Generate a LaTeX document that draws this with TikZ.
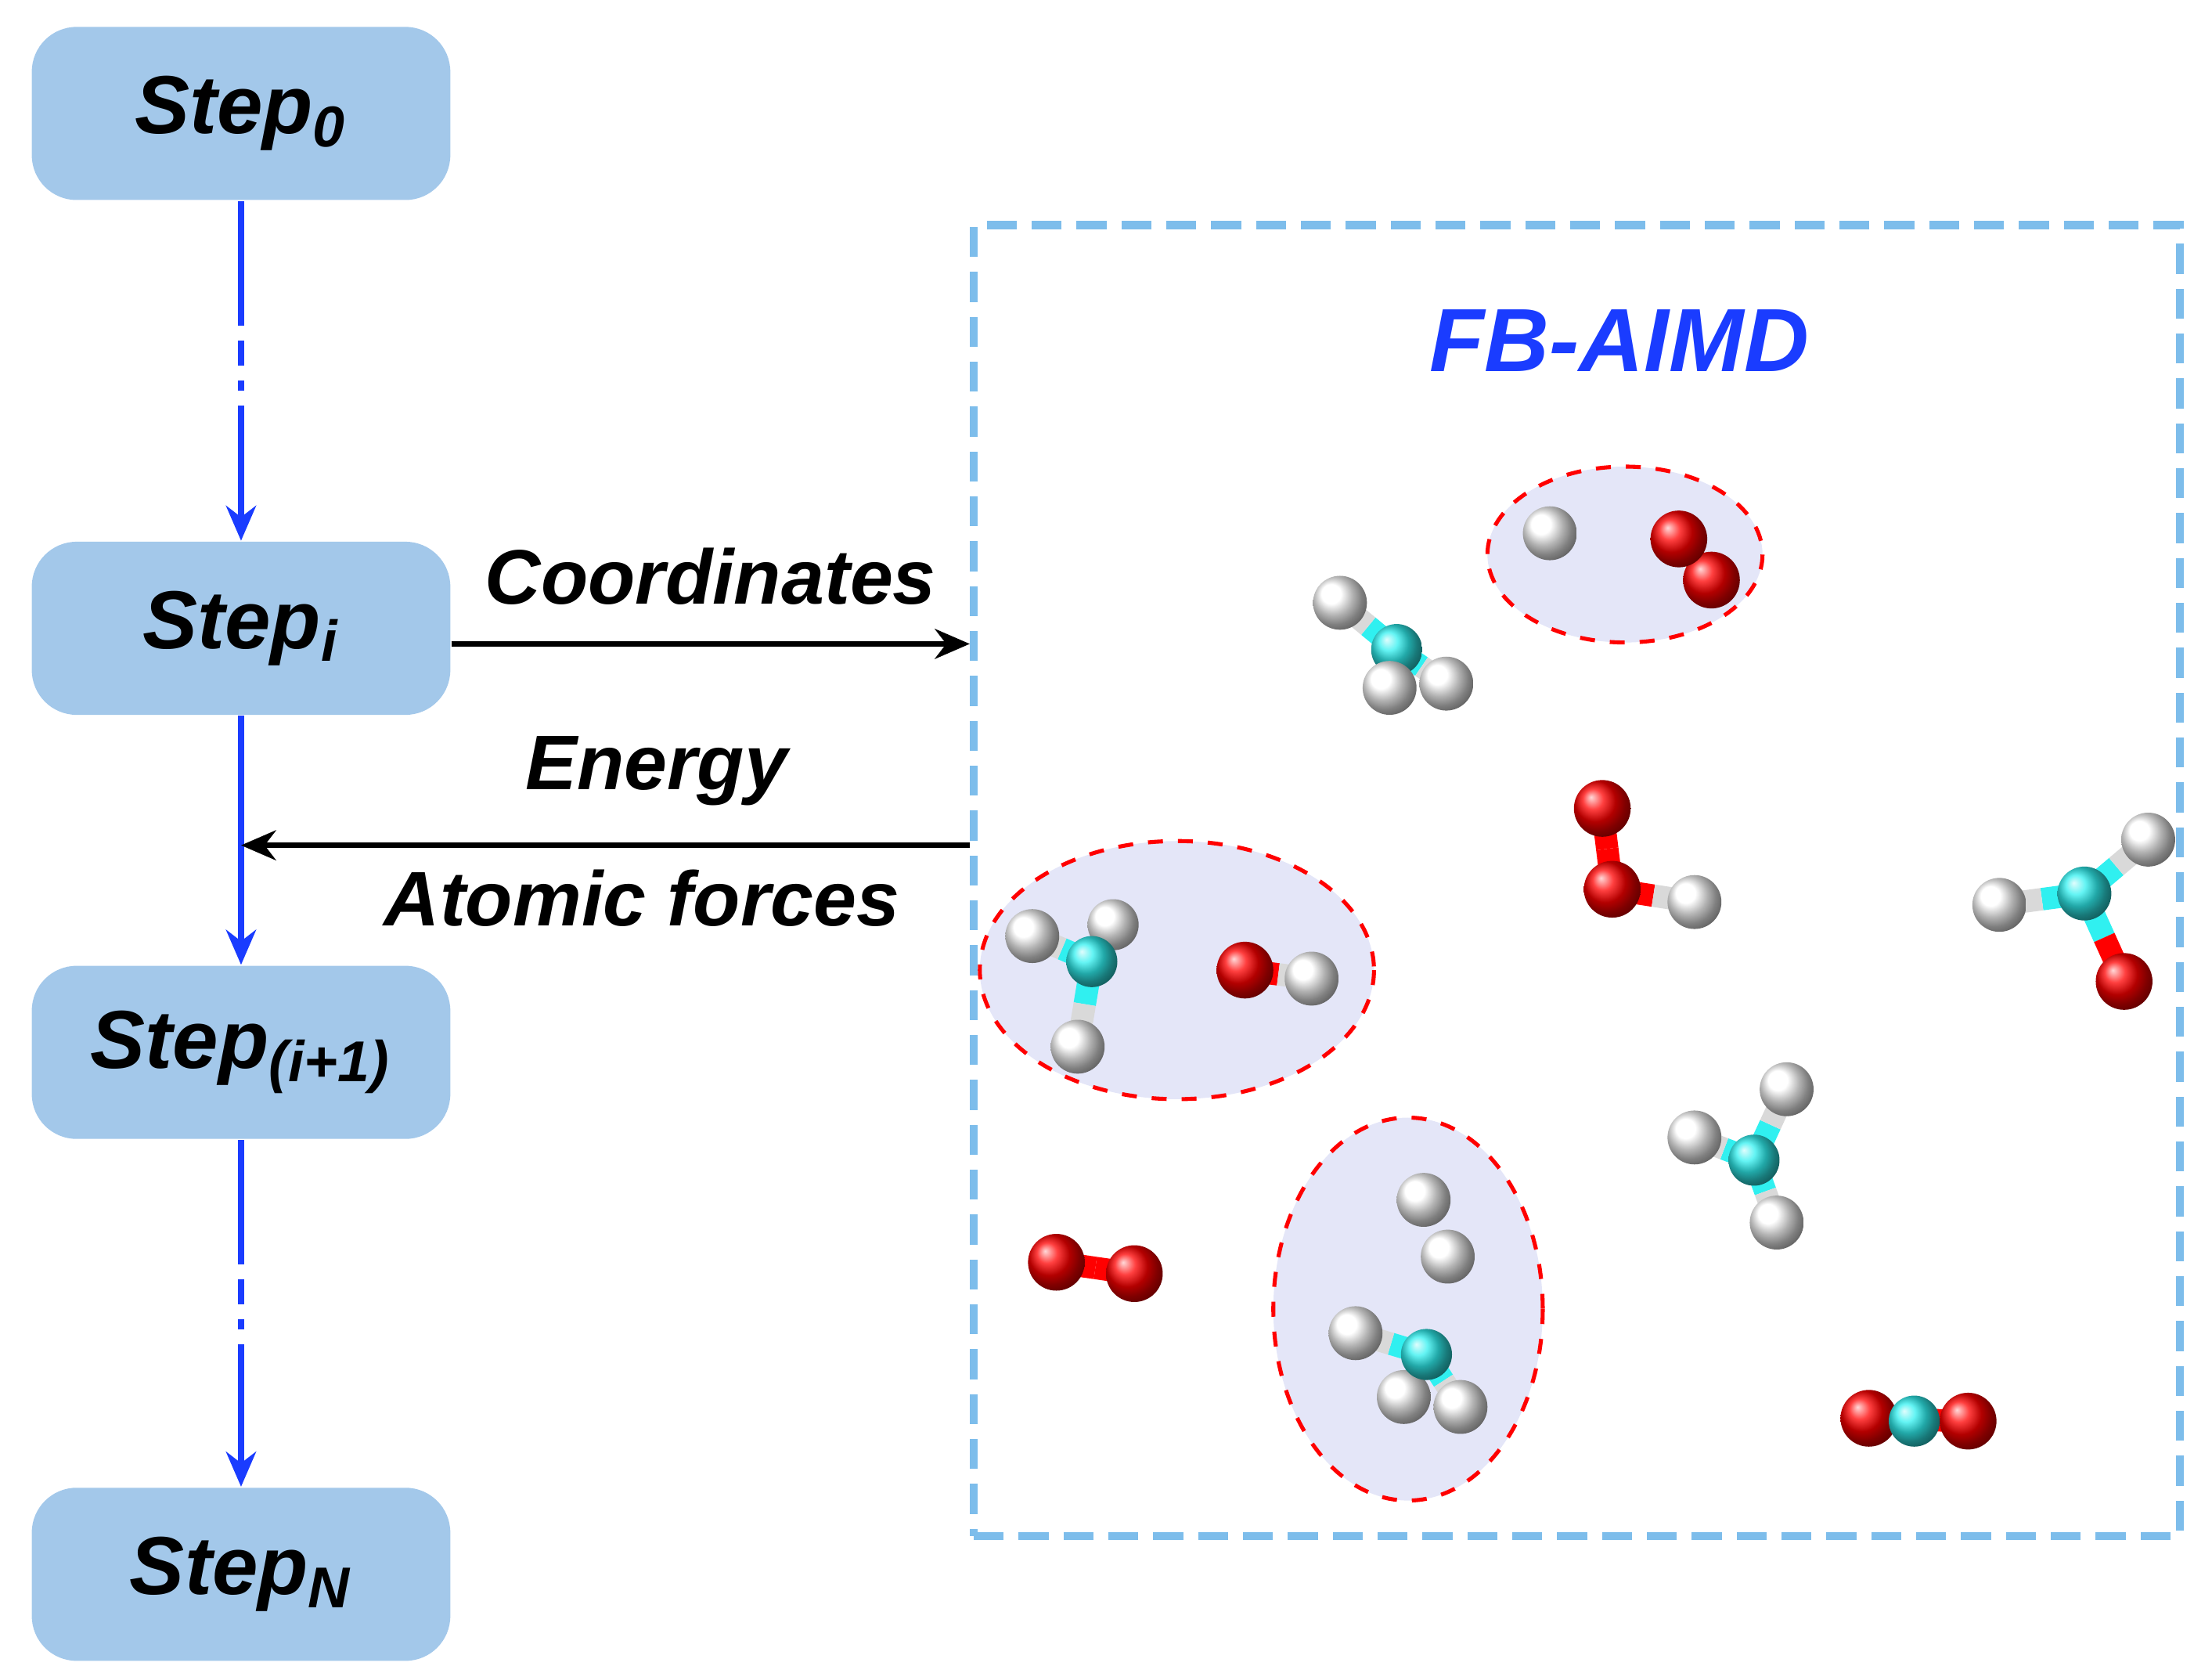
\documentclass[tikz,border=0pt]{standalone}
\usepackage{fontspec}
\setmainfont{Liberation Sans}
\usetikzlibrary{arrows.meta,calc}
\definecolor{boxblue}{HTML}{A3C8EA}
\definecolor{frameblue}{HTML}{7DBDEB}
\definecolor{arrowblue}{HTML}{1A3CFF}
\definecolor{ringfill}{HTML}{E4E6F8}
\definecolor{oxred}{HTML}{FF0000}
\definecolor{ncyan}{HTML}{30F0F0}
\tikzset{
  stepbox/.style={fill=boxblue, rounded corners=9pt, minimum width=2.95cm, minimum height=1.22cm,
    font=\fontsize{16.5}{20}\selectfont\bfseries\itshape},
  flow/.style={draw=arrowblue, line width=1.3pt, -{Stealth[length=7pt,width=6pt]}},
  skip/.style={flow, dash pattern=on 25pt off 3pt on 5pt off 3pt on 2pt off 3pt on 60pt},
  data/.style={draw=black, line width=1.1pt, -{Stealth[length=7pt,width=6pt]}},
  lbl/.style={font=\fontsize{15.5}{19}\selectfont\bfseries\itshape},
  ring/.style={draw=red, dashed, line width=0.8pt, fill=ringfill},
}
\newcommand{\atm}[4]{\shade[ball color=#3] (#1,#2) circle (#4);}
\newcommand{\bnd}[6]{\draw[line width=4.5pt,#5] (#1,#2) -- ($(#1,#2)!0.5!(#3,#4)$);
  \draw[line width=4.5pt,#6] ($(#1,#2)!0.5!(#3,#4)$) -- (#3,#4);}
\begin{document}
\begin{tikzpicture}[x=0.01cm, y=-0.01cm]
\useasboundingbox (0,0) rectangle (1560,1182);
%Nodes
\node[stepbox] (S0)  at (170,80)  {Step\textsubscript{0}};
\node[stepbox] (Si)  at (170,443) {Step\textsubscript{i}};
\node[stepbox] (Si1) at (170,742) {Step\textsubscript{(i+1)}};
\node[stepbox] (SN)  at (170,1110) {Step\textsubscript{N}};
\node[draw=frameblue, dash pattern=on 6pt off 3pt, line width=1.6pt, minimum width=8.5cm, minimum height=9.24cm]
  (Box) at (1112,621) {};
\node[text=arrowblue, font=\fontsize{18}{22}\selectfont\bfseries\itshape] (Title) at (1142,240) {FB-AIMD};
\coordinate (Cin)  at (Box.west |- 0,454);
\coordinate (Eout) at (Box.west |- 0,596);

%Lines
\draw[skip] (S0.south) -- (Si.north);
\draw[flow] (Si.south) -- (Si1.north);
\draw[skip] (Si1.south) -- (SN.north);
\draw[data] (Si.east |- Cin) -- (Cin)
    node[lbl, midway, above=4pt]{Coordinates};
\draw[data] (Eout) -- (Si.south |- Eout)
    node[lbl, pos=0.43, above=4pt]{Energy}
    node[lbl, pos=0.45, below=1pt]{Atomic forces};

%Groups
\draw[ring] (1146,391) ellipse (97 and 62);
\draw[ring] (830,684) ellipse (139 and 91);
\draw[ring] (993,923) ellipse (95 and 135);

%Molecules
\atm{1093}{376}{white}{19}
\bnd{1184}{380}{1207}{409}{oxred}{oxred}
\atm{1207}{409}{oxred}{20} \atm{1184}{380}{oxred}{20}

\bnd{985}{458}{945}{425}{ncyan}{white!85!black}
\bnd{985}{458}{980}{485}{ncyan}{white!85!black}
\bnd{985}{458}{1020}{482}{ncyan}{white!85!black}
\atm{945}{425}{white}{19} \atm{1020}{482}{white}{19}
\atm{985}{458}{ncyan}{18} \atm{980}{485}{white}{19}

\bnd{1130}{570}{1137}{627}{oxred}{oxred}
\bnd{1137}{627}{1195}{636}{oxred}{white!85!black}
\atm{1130}{570}{oxred}{20} \atm{1195}{636}{white}{19} \atm{1137}{627}{oxred}{20}

\bnd{1470}{630}{1515}{592}{ncyan}{white!85!black}
\bnd{1470}{630}{1410}{638}{ncyan}{white!85!black}
\bnd{1470}{630}{1498}{692}{ncyan}{oxred}
\atm{1515}{592}{white}{19} \atm{1410}{638}{white}{19} \atm{1498}{692}{oxred}{20}
\atm{1470}{630}{ncyan}{19}

\bnd{770}{678}{728}{660}{ncyan}{white!85!black}
\bnd{770}{678}{785}{652}{ncyan}{white!85!black}
\bnd{770}{678}{760}{738}{ncyan}{white!85!black}
\atm{785}{652}{white}{18} \atm{728}{660}{white}{19} \atm{770}{678}{ncyan}{18}
\atm{760}{738}{white}{19}
\bnd{878}{684}{925}{690}{oxred}{white!85!black}
\atm{878}{684}{oxred}{20} \atm{925}{690}{white}{19}

\atm{1004}{846}{white}{19} \atm{1021}{886}{white}{19}
\bnd{1006}{955}{956}{940}{ncyan}{white!85!black}
\bnd{1006}{955}{990}{985}{ncyan}{white!85!black}
\bnd{1006}{955}{1030}{992}{ncyan}{white!85!black}
\atm{956}{940}{white}{19} \atm{990}{985}{white}{19}
\atm{1006}{955}{ncyan}{18} \atm{1030}{992}{white}{19}

\bnd{1237}{818}{1260}{768}{ncyan}{white!85!black}
\bnd{1237}{818}{1195}{802}{ncyan}{white!85!black}
\bnd{1237}{818}{1253}{862}{ncyan}{white!85!black}
\atm{1260}{768}{white}{19} \atm{1195}{802}{white}{19}
\atm{1237}{818}{ncyan}{18} \atm{1253}{862}{white}{19}

\bnd{745}{890}{800}{898}{oxred}{oxred}
\atm{745}{890}{oxred}{20} \atm{800}{898}{oxred}{20}

\bnd{1318}{1000}{1388}{1002}{oxred}{oxred}
\atm{1318}{1000}{oxred}{20} \atm{1388}{1002}{oxred}{20} \atm{1350}{1002}{ncyan}{18}
\end{tikzpicture}
\end{document}
